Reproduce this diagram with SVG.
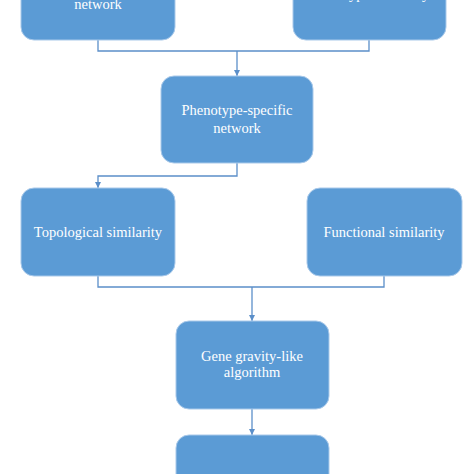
<svg xmlns="http://www.w3.org/2000/svg" width="474" height="474" viewBox="0 0 474 474">
<defs>
<style>
.box{fill:#5B9BD5;stroke:#A9C9EA;stroke-width:1}
.lbl{font-family:"Liberation Serif","Times New Roman",serif;font-size:14.5px;fill:#FFFFFF;text-anchor:middle}
.con{fill:none;stroke:#5B8FC9;stroke-width:1.3}
</style>
<marker id="arr" viewBox="0 0 10 10" refX="10" refY="5" markerWidth="6" markerHeight="6" markerUnits="userSpaceOnUse" orient="auto">
<path d="M0,0 L10,5 L0,10 Z" fill="#5B8FC9"/>
</marker>
</defs>
<rect width="474" height="474" fill="#FFFFFF"/>
<g id="connectors">
<path class="con" d="M98,40 V51 H369 V40"/>
<path class="con" d="M237,51 V76" marker-end="url(#arr)"/>
<path class="con" d="M237,163 V176 H98 V188" marker-end="url(#arr)"/>
<path class="con" d="M98,276 V287 H384 V276"/>
<path class="con" d="M252,287 V321" marker-end="url(#arr)"/>
<path class="con" d="M252,409 V435" marker-end="url(#arr)"/>
</g>
<g id="node-network">
<rect class="box" x="21" y="-48" width="154" height="88" rx="13"/>
<text class="lbl" x="98" y="8.5">network</text>
</g>
<g id="node-phenotype-similarity">
<rect class="box" x="293" y="-48" width="153" height="88" rx="13"/>
<text class="lbl" x="369" y="-1">Phenotype similarity</text>
</g>
<g id="node-phenotype-specific">
<rect class="box" x="161" y="76" width="152" height="87" rx="13"/>
<text class="lbl" x="237" y="115">Phenotype-specific</text>
<text class="lbl" x="237" y="133">network</text>
</g>
<g id="node-topological">
<rect class="box" x="21" y="188" width="154" height="88" rx="13"/>
<text class="lbl" x="98" y="237">Topological similarity</text>
</g>
<g id="node-functional">
<rect class="box" x="307" y="188" width="155" height="88" rx="13"/>
<text class="lbl" x="384" y="237">Functional similarity</text>
</g>
<g id="node-gene-gravity">
<rect class="box" x="176" y="321" width="153" height="88" rx="13"/>
<text class="lbl" x="252" y="361">Gene gravity-like</text>
<text class="lbl" x="252" y="377">algorithm</text>
</g>
<g id="node-bottom">
<rect class="box" x="176" y="435" width="153" height="88" rx="13"/>
</g>
</svg>
